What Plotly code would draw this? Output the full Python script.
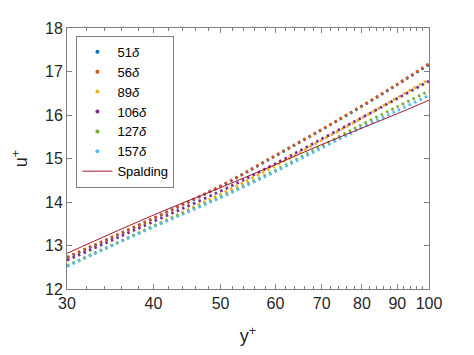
import plotly.graph_objects as go

# y+ positions where values were read
y_plus = [30, 40, 50, 60, 70, 80, 90, 100]

u_51 = [12.72, 13.62, 14.36, 15.06, 15.66, 16.20, 16.70, 17.16]
u_56 = [12.73, 13.63, 14.37, 15.07, 15.67, 16.21, 16.71, 17.18]
u_89 = [12.53, 13.45, 14.18, 14.83, 15.42, 15.93, 16.40, 16.82]
u_106 = [12.66, 13.55, 14.25, 14.88, 15.45, 15.94, 16.38, 16.78]
u_127 = [12.53, 13.44, 14.12, 14.73, 15.29, 15.78, 16.19, 16.55]
u_157 = [12.52, 13.43, 14.10, 14.70, 15.24, 15.71, 16.10, 16.45]
u_spalding = [12.82, 13.70, 14.33, 14.86, 15.32, 15.70, 16.03, 16.34]

series_names = ["51<i>δ</i>", "56<i>δ</i>", "89<i>δ</i>", "106<i>δ</i>", "127<i>δ</i>", "157<i>δ</i>"]
series_values = [u_51, u_56, u_89, u_106, u_127, u_157]
series_colors = ["#0072BD", "#D95319", "#EDB120", "#7E2F8E", "#77AC30", "#4DBEEE"]

x_ticks = [30, 40, 50, 60, 70, 80, 90, 100]
y_ticks = [12, 13, 14, 15, 16, 17, 18]
minor_x = [v for v in range(32, 100, 2) if v % 10 != 0]

fig = go.Figure()

for name, vals, col in zip(series_names, series_values, series_colors):
    fig.add_trace(go.Scatter(
        x=y_plus, y=vals, mode="lines", line_shape="spline",
        line=dict(color=col, width=2.8, dash="2.5px,3.5px"),
        showlegend=False, hoverinfo="skip"))
    fig.add_trace(go.Scatter(
        x=[None], y=[None], mode="markers", name=name,
        marker=dict(color=col, size=4)))

fig.add_trace(go.Scatter(
    x=y_plus, y=u_spalding, mode="lines", name="Spalding", line_shape="spline",
    line=dict(color="#A2142F", width=1)))

axis_common = dict(
    showline=True, linecolor="#808080", linewidth=1, mirror="ticks",
    ticks="inside", ticklen=5, tickcolor="#808080", showgrid=False, zeroline=False,
    tickfont=dict(family="Liberation Sans, Arial", size=16, color="#262626"),
)

# page has an 8px body margin, so the figure is sized to fit the window
fig.update_layout(
    width=466, height=347,
    margin=dict(l=54, r=45, t=19, b=58),
    paper_bgcolor="white", plot_bgcolor="white",
    font=dict(family="Liberation Sans, Arial", size=16, color="#262626"),
    xaxis=dict(
        type="log", range=[1.4771212547, 2.0],
        tickmode="array", tickvals=x_ticks, ticktext=[str(v) for v in x_ticks],
        minor=dict(tickmode="array", tickvals=minor_x, ticks="inside", ticklen=3, tickcolor="#808080"),
        title=dict(text="y<sup>+</sup>", font=dict(size=18), standoff=18),
        **axis_common),
    yaxis=dict(
        range=[12, 18], tickmode="array", tickvals=y_ticks,
        title=dict(text="u<sup>+</sup>", font=dict(size=18), standoff=12),
        **axis_common),
    legend=dict(
        x=0.026, y=0.97, xanchor="left", yanchor="top",
        bgcolor="white", bordercolor="#808080", borderwidth=1,
        font=dict(size=13, color="#000000"), tracegroupgap=0,
        itemwidth=30),
    showlegend=True,
)

fig.write_html("out.html")
